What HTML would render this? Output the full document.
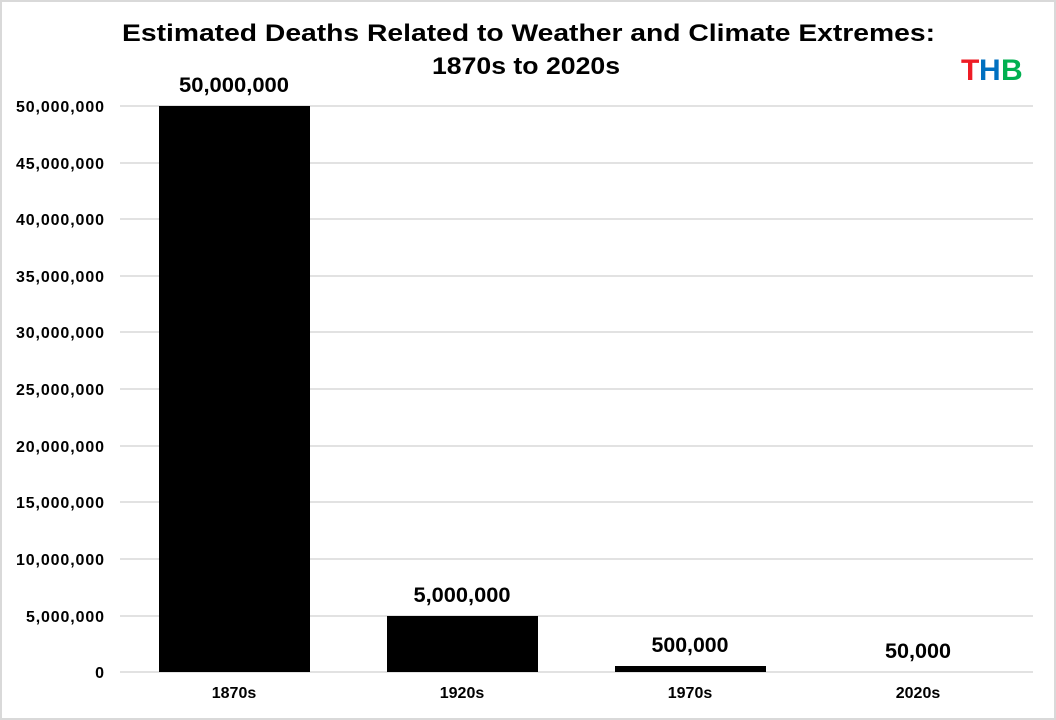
<!DOCTYPE html>
<html><head><style>
body{margin:0;background:#fff;}
svg{display:block;font-family:"Liberation Sans",sans-serif;font-weight:bold;}
</style></head><body>
<svg width="1056" height="720" viewBox="0 0 1056 720">
<rect x="1" y="1" width="1054" height="718" fill="#fff" stroke="#d9d9d9" stroke-width="2"/>
<text x="122" y="41" font-size="24" textLength="813" lengthAdjust="spacingAndGlyphs">Estimated Deaths Related to Weather and Climate Extremes:</text>
<text x="432" y="74" font-size="24" textLength="188" lengthAdjust="spacingAndGlyphs">1870s to 2020s</text>
<text x="961" y="80" font-size="30" fill="#ee1c25">T</text>
<text x="979" y="80" font-size="30" fill="#0070c0">H</text>
<text x="1001" y="80" font-size="30" fill="#00b050">B</text>
<g stroke="#d9d9d9" stroke-width="1.5">
<line x1="120" x2="1033" y1="106" y2="106"/><line x1="120" x2="1033" y1="163" y2="163"/>
<line x1="120" x2="1033" y1="219" y2="219"/><line x1="120" x2="1033" y1="276" y2="276"/>
<line x1="120" x2="1033" y1="332" y2="332"/><line x1="120" x2="1033" y1="389" y2="389"/>
<line x1="120" x2="1033" y1="446" y2="446"/><line x1="120" x2="1033" y1="502" y2="502"/>
<line x1="120" x2="1033" y1="559" y2="559"/><line x1="120" x2="1033" y1="616" y2="616"/>
<line x1="120" x2="1033" y1="672" y2="672"/>
</g>
<g font-size="16" text-anchor="end" lengthAdjust="spacingAndGlyphs">
<text x="104" y="112" textLength="88">50,000,000</text><text x="104" y="169" textLength="88">45,000,000</text>
<text x="104" y="225" textLength="88">40,000,000</text><text x="104" y="282" textLength="88">35,000,000</text>
<text x="104" y="338" textLength="88">30,000,000</text><text x="104" y="395" textLength="88">25,000,000</text>
<text x="104" y="452" textLength="88">20,000,000</text><text x="104" y="508" textLength="88">15,000,000</text>
<text x="104" y="565" textLength="88">10,000,000</text><text x="104" y="622" textLength="78">5,000,000</text>
<text x="104" y="678">0</text>
</g>
<rect x="159" y="106" width="151" height="566" fill="#000"/>
<rect x="387" y="616" width="151" height="56" fill="#000"/>
<rect x="615" y="666" width="151" height="6" fill="#000"/>
<g font-size="21" text-anchor="middle">
<text x="234" y="92" textLength="110" lengthAdjust="spacingAndGlyphs">50,000,000</text>
<text x="462" y="602" textLength="97" lengthAdjust="spacingAndGlyphs">5,000,000</text>
<text x="690" y="652" textLength="77" lengthAdjust="spacingAndGlyphs">500,000</text>
<text x="918" y="658" textLength="66" lengthAdjust="spacingAndGlyphs">50,000</text>
</g>
<g font-size="16" text-anchor="middle">
<text x="234" y="698">1870s</text><text x="462" y="698">1920s</text>
<text x="690" y="698">1970s</text><text x="918" y="698">2020s</text>
</g>
</svg>
</body></html>
